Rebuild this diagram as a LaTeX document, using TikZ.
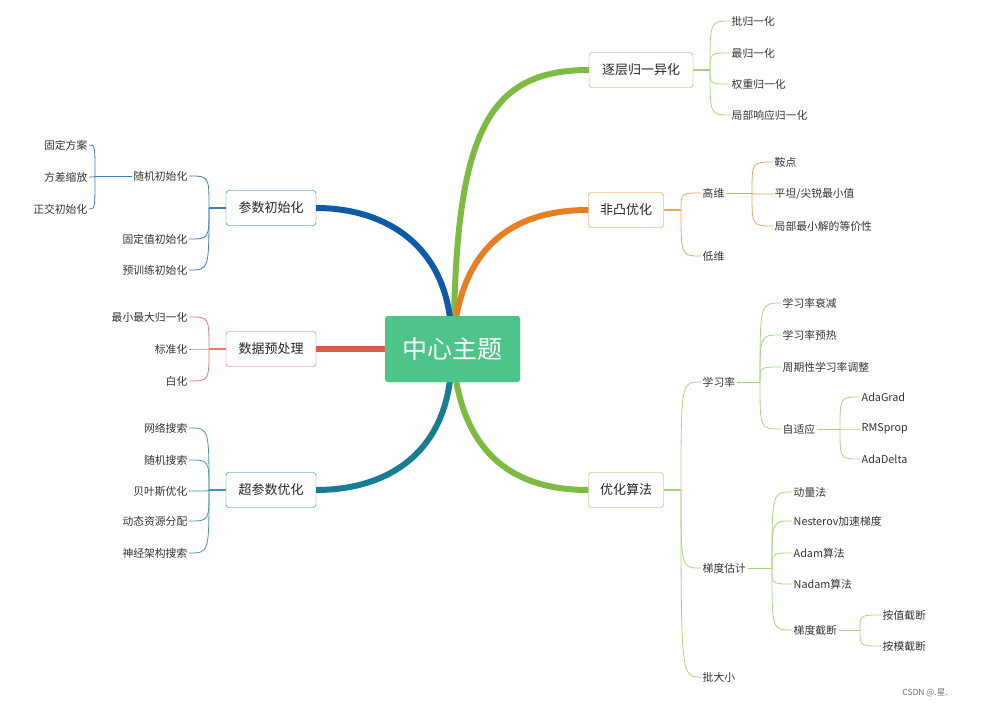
\documentclass[tikz,border=0pt]{standalone}
\usepackage{fontspec}
\setmainfont{Noto Sans CJK SC}
\begin{document}
\begin{tikzpicture}[x=1pt,y=-1pt,
  leaf/.style={inner sep=1.5pt,font=\fontsize{10.8}{12}\selectfont,text=black!80},
  topic/.style={draw,rounded corners=3pt,minimum height=35pt,inner xsep=8pt,fill=white,font=\fontsize{13}{15}\selectfont,text=black!85},
  center/.style={fill=cc,rounded corners=3pt,minimum width=135pt,minimum height=66pt,text=white,font=\fontsize{25}{28}\selectfont},
  thick line/.style={line width=6pt},
  thin/.style={line width=0.8pt}]
\definecolor{cg}{HTML}{7DBB42}\definecolor{co}{HTML}{E67E22}
\definecolor{cb}{HTML}{0B5BA8}\definecolor{cr}{HTML}{E35A4A}
\definecolor{ct}{HTML}{177D92}\definecolor{cc}{HTML}{4EC38A}
\definecolor{lg}{HTML}{A8D47C}
\useasboundingbox (0,0) rectangle (982,709);
\newcommand\rb[3]{\draw[thin,#1] (#2) .. controls (#2 |- #3.west) .. (#3.west);}
\newcommand\lb[3]{\draw[thin,#1] (#2) .. controls (#2 |- #3.east) .. (#3.east);}
\node[center] (c) at (452.5,349) {中心主题};
\node[topic,draw=cg,minimum width=104pt] (a) at (641,70) {逐层归一异化};
\node[topic,draw=co,minimum width=75pt] (b) at (626,210) {非凸优化};
\node[topic,draw=cg,minimum width=75pt] (d) at (626,490) {优化算法};
\node[topic,draw=cb,minimum width=90pt] (e) at (271,208) {参数初始化};
\node[topic,draw=cr,minimum width=90pt] (f) at (271,349) {数据预处理};
\node[topic,draw=ct,minimum width=90pt] (g) at (271,490) {超参数优化};
\draw[thick line,cg] (454,318) .. controls (458,130) and (490,70) .. (a.west);
\draw[thick line,co] (456,318) .. controls (470,240) and (520,210) .. (b.west);
\draw[thick line,cg] (456,380) .. controls (470,460) and (520,490) .. (d.west);
\draw[thick line,cb] (450,318) .. controls (440,240) and (380,208) .. (e.east);
\draw[thick line,cr] (c.west) -- (f.east);
\draw[thick line,ct] (450,380) .. controls (440,460) and (380,490) .. (g.east);
\node[center] at (c) {中心主题};
% ---- a
\coordinate (fa) at (710,70);
\draw[line width=2pt,lg] (a.east) -- (fa);
\foreach \t/\y/\k in {批归一化/21/a1,最归一化/53/a2,权重归一化/84/a3,局部响应归一化/115/a4}{
  \node[leaf,anchor=west] (\k) at (730,\y) {\t}; \rb{lg}{fa}{\k}}
% ---- b
\coordinate (fb) at (681,210);
\draw[line width=1.5pt,co!70] (b.east) -- (fb);
\node[leaf,anchor=west] (b1) at (701,193) {高维}; \rb{co!70}{fb}{b1}
\node[leaf,anchor=west] (b2) at (701,256) {低维}; \rb{co!70}{fb}{b2}
\coordinate (fb1) at (752,193);
\draw[thin,co!70] (b1.east) -- (fb1);
\node[leaf,anchor=west] (b11) at (773,162) {鞍点}; \rb{co!70}{fb1}{b11}
\node[leaf,anchor=west] (b12) at (773,194) {平坦/尖锐最小值}; \rb{co!70}{fb1}{b12}
\node[leaf,anchor=west] (b13) at (773,226) {局部最小解的等价性}; \rb{co!70}{fb1}{b13}
% ---- d
\coordinate (fd) at (681,490);
\draw[line width=1.5pt,lg] (d.east) -- (fd);
\foreach \t/\y/\k in {学习率/382/d1,梯度估计/568/d2,批大小/677/d3}{
  \node[leaf,anchor=west] (\k) at (701,\y) {\t}; \rb{lg}{fd}{\k}}
\coordinate (fd1) at (760,382);
\draw[thin,lg] (d1.east) -- (fd1);
\foreach \t/\y/\k in {学习率衰减/303/e1,学习率预热/335/e2,周期性学习率调整/367/e3,自适应/429/e4}{
  \node[leaf,anchor=west] (\k) at (781,\y) {\t}; \rb{lg}{fd1}{\k}}
\coordinate (fe4) at (840,429);
\draw[thin,lg] (e4.east) -- (fe4);
\foreach \t/\y/\k in {AdaGrad/397/f1,RMSprop/429/f2,AdaDelta/459/f3}{
  \node[leaf,anchor=west] (\k) at (860,\y) {\t}; \rb{lg}{fe4}{\k}}
\coordinate (fd2) at (772,568);
\draw[thin,lg] (d2.east) -- (fd2);
\foreach \t/\y/\k in {动量法/492/h1,Nesterov加速梯度/521/h2,Adam算法/553/h3,Nadam算法/584/h4,梯度截断/630/h5}{
  \node[leaf,anchor=west] (\k) at (792,\y) {\t}; \rb{lg}{fd2}{\k}}
\coordinate (fh5) at (860,630);
\draw[thin,lg] (h5.east) -- (fh5);
\foreach \t/\y/\k in {按值截断/615/i1,按模截断/646/i2}{
  \node[leaf,anchor=west] (\k) at (881,\y) {\t}; \rb{lg}{fh5}{\k}}
% ---- e
\coordinate (fe) at (209,208);
\draw[line width=1.5pt,cb!80] (e.west) -- (fe);
\foreach \t/\y/\k in {随机初始化/176/j1,固定值初始化/239/j2,预训练初始化/270/j3}{
  \node[leaf,anchor=east] (\k) at (189,\y) {\t}; \lb{cb!80}{fe}{\k}}
\coordinate (fj1) at (95,176);
\draw[thin,cb!80] (j1.west) -- (fj1);
\foreach \t/\y/\k in {固定方案/145/k1,方差缩放/177/k2,正交初始化/209/k3}{
  \node[leaf,anchor=east] (\k) at (89,\y) {\t}; \lb{cb!80}{fj1}{\k}}
% ---- f
\coordinate (ff) at (209,349);
\draw[line width=1.5pt,cr!80] (f.west) -- (ff);
\foreach \t/\y/\k in {最小最大归一化/317/l1,标准化/349/l2,白化/381/l3}{
  \node[leaf,anchor=east] (\k) at (189,\y) {\t}; \lb{cr!80}{ff}{\k}}
% ---- g
\coordinate (fg) at (209,490);
\draw[line width=1.5pt,ct!80] (g.west) -- (fg);
\foreach \t/\y/\k in {网络搜索/428/m1,随机搜索/460/m2,贝叶斯优化/491/m3,动态资源分配/521/m4,神经架构搜索/553/m5}{
  \node[leaf,anchor=east] (\k) at (189,\y) {\t}; \lb{ct!80}{fg}{\k}}
\node[font=\fontsize{8.5}{10}\selectfont,text=black!55] (w) at (925,693) {CSDN @.星.};
\end{tikzpicture}
\end{document}
